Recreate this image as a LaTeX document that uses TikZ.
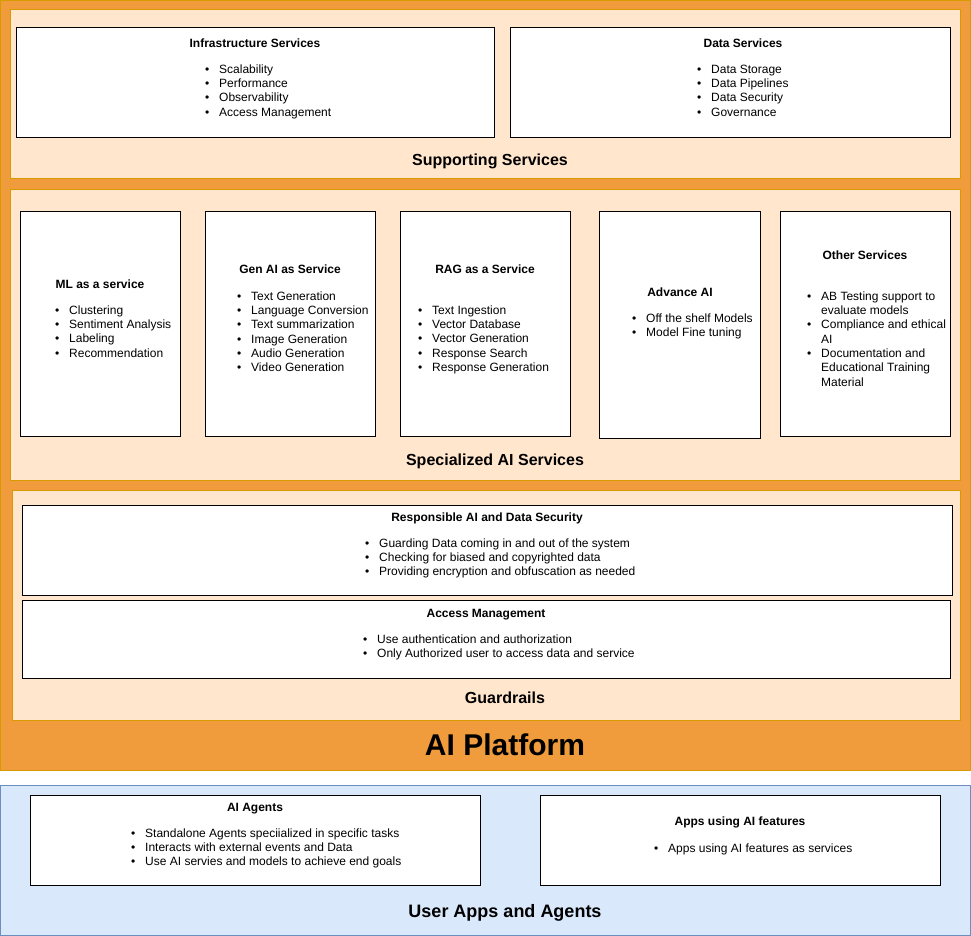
\documentclass[tikz,border=0pt]{standalone}
\usepackage{fontspec}
\setmainfont{Liberation Sans}
\usepackage{tikz}
\definecolor{platOrange}{HTML}{F09C3C}
\definecolor{edgeOrange}{HTML}{D79B00}
\definecolor{paleOrange}{HTML}{FFE6CC}
\definecolor{paleBlue}{HTML}{DAE8FC}
\definecolor{edgeBlue}{HTML}{6C8EBF}
\newcommand{\bul}{\makebox[14pt][l]{\textbullet}}
\tikzset{
  panel/.style={draw=edgeOrange, fill=paleOrange, line width=1pt},
  box/.style={draw=black, fill=white, line width=1pt, inner sep=0pt},
  head/.style={inner sep=0pt, font=\fontsize{12}{14}\selectfont\bfseries, text height=8.6pt, text depth=0pt},
  item/.style={anchor=west, inner sep=0pt, font=\fontsize{12}{14}\selectfont, text height=8.6pt, text depth=0pt},
  layer/.style={inner sep=0pt, font=\fontsize{16}{19}\selectfont\bfseries, text height=11.5pt, text depth=0pt}
}
\begin{document}
\begin{tikzpicture}[x=1pt,y=-1pt]
        \useasboundingbox (0,0) rectangle (971,936);
        % Draw the platform
        \draw[draw=edgeOrange, fill=platOrange, line width=1pt] (0.5,0.5) rectangle (970.5,770);
        \draw[panel] (10,10) rectangle (960,179);
        \draw[panel] (10,190) rectangle (960,480);
        \draw[panel] (12,490) rectangle (960,720);
        \draw[draw=edgeBlue, fill=paleBlue, line width=1pt] (0.5,785) rectangle (970.5,935.5);
        % Supporting services
        \node[box, minimum width=478pt, minimum height=110pt] (infra) at (255,83) {};
        \node[box, minimum width=440pt, minimum height=110pt] (data) at (730,83) {};
        \node[head] (infraT) at (255,43) {Infrastructure Services};
        \foreach \t [count=\i from 0] in {Scalability, Performance, Observability, Access Management}
            \node[item] (infra\i) at (205,69+14.3*\i) {\bul\t};
        \node[head] (dataT) at (743,43) {Data Services};
        \foreach \t [count=\i from 0] in {Data Storage, Data Pipelines, Data Security, Governance}
            \node[item] (data\i) at (697,69+14.3*\i) {\bul\t};
        \node[layer] (supp) at (490,160) {Supporting Services};
        % Specialized AI services
        \node[box, minimum width=160pt, minimum height=225pt] (ml) at (100,323.5) {};
        \node[box, minimum width=170pt, minimum height=225pt] (gen) at (290,323.5) {};
        \node[box, minimum width=170pt, minimum height=225pt] (rag) at (485,323.5) {};
        \node[box, minimum width=161pt, minimum height=227pt] (adv) at (679.5,324.5) {};
        \node[box, minimum width=170pt, minimum height=225pt] (other) at (865,323.5) {};
        \node[head] (mlT) at (100,284) {ML as a service};
        \foreach \t [count=\i from 0] in {Clustering, Sentiment Analysis, Labeling, Recommendation}
            \node[item] (ml\i) at (55,310+14.3*\i) {\bul\t};
        \node[head] (genT) at (290,269) {Gen AI as Service};
        \foreach \t [count=\i from 0] in {Text Generation, Language Conversion, Text summarization, Image Generation, Audio Generation, Video Generation}
            \node[item] (gen\i) at (237,296+14.3*\i) {\bul\t};
        \node[head] (ragT) at (485,269) {RAG as a Service};
        \foreach \t [count=\i from 0] in {Text Ingestion, Vector Database, Vector Generation, Response Search, Response Generation}
            \node[item] (rag\i) at (418,310+14.3*\i) {\bul\t};
        \node[head] (advT) at (680,292) {Advance AI};
        \foreach \t [count=\i from 0] in {Off the shelf Models, Model Fine tuning}
            \node[item] (adv\i) at (632,318+14.3*\i) {\bul\t};
        \node[head] (otherT) at (865,255) {Other Services};
        \node[item] (other0) at (807,296) {\bul AB Testing support to};
        \node[item] (other1) at (807,310.3) {\hspace*{14pt}evaluate models};
        \node[item] (other2) at (807,324.6) {\bul Compliance and ethical};
        \node[item] (other3) at (807,338.9) {\hspace*{14pt}AI};
        \node[item] (other4) at (807,353.2) {\bul Documentation and};
        \node[item] (other5) at (807,367.5) {\hspace*{14pt}Educational Training};
        \node[item] (other6) at (807,381.8) {\hspace*{14pt}Material};
        \node[layer] (spec) at (495,460) {Specialized AI Services};
        % Guardrails
        \node[box, minimum width=930pt, minimum height=90pt] (resp) at (487,550) {};
        \node[box, minimum width=928pt, minimum height=78pt] (access) at (486,639) {};
        \node[head] (respT) at (487,517) {Responsible AI and Data Security};
        \foreach \t [count=\i from 0] in {Guarding Data coming in and out of the system, Checking for biased and copyrighted data, Providing encryption and obfuscation as needed}
            \node[item] (resp\i) at (365,543+14.3*\i) {\bul\t};
        \node[head] (accessT) at (486,613) {Access Management};
        \foreach \t [count=\i from 0] in {Use authentication and authorization, Only Authorized user to access data and service}
            \node[item] (access\i) at (363,639+14.3*\i) {\bul\t};
        \node[layer] (guard) at (505,698) {Guardrails};
        \node[layer, font=\fontsize{30}{34}\selectfont\bfseries, text height=21.5pt] (plat) at (505,745) {AI Platform};
        % User apps and agents
        \node[box, minimum width=450pt, minimum height=90pt] (agents) at (255,840) {};
        \node[box, minimum width=400pt, minimum height=90pt] (apps) at (740,840) {};
        \node[head] (agentsT) at (255,807) {AI Agents};
        \foreach \t [count=\i from 0] in {Standalone Agents speciialized in specific tasks, Interacts with external events and Data, Use AI servies and models to achieve end goals}
            \node[item] (agents\i) at (131,833+14.3*\i) {\bul\t};
        \node[head] (appsT) at (740,821) {Apps using AI features};
        \node[item] (apps0) at (654,848) {\bul Apps using AI features as services};
        \node[layer, font=\fontsize{18}{21}\selectfont\bfseries, text height=13pt] (user) at (505,911) {User Apps and Agents};
\end{tikzpicture}
\end{document}
